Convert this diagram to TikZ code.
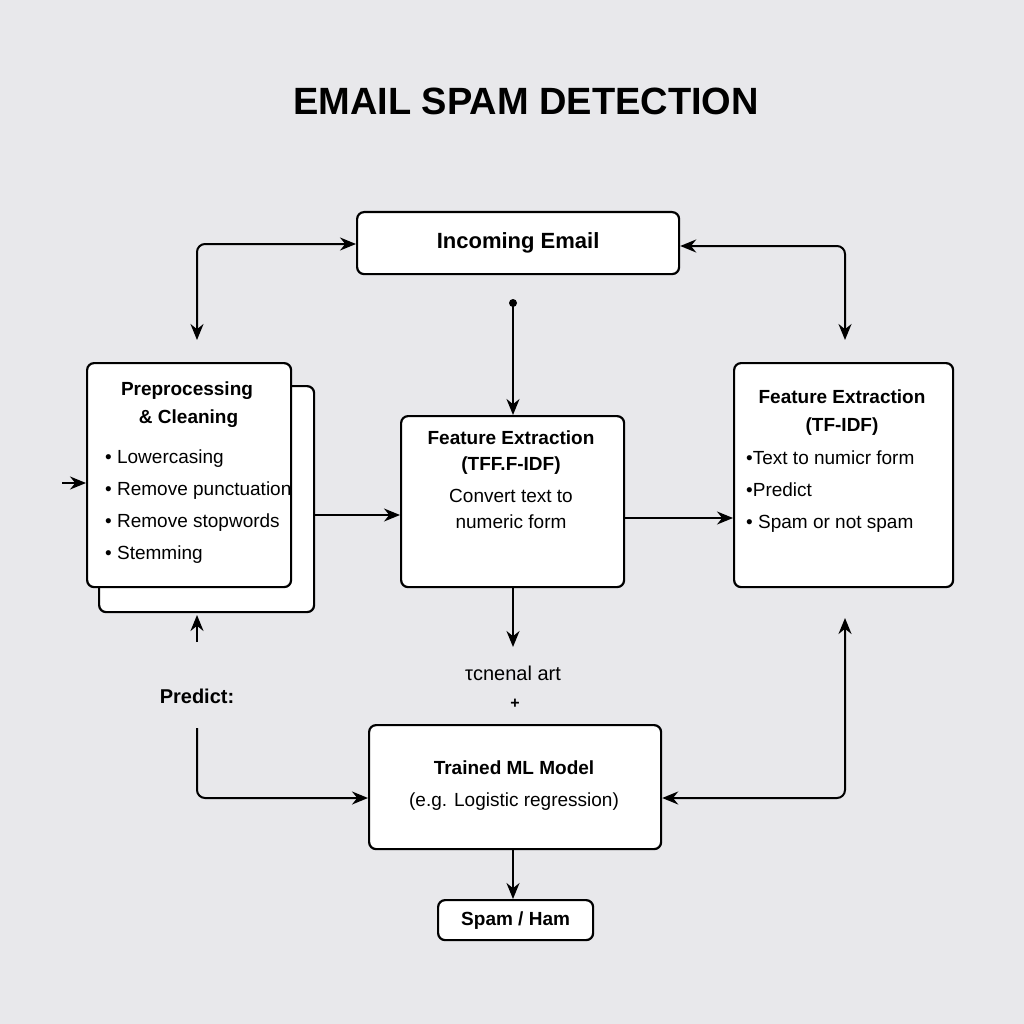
\documentclass[tikz,border=0pt]{standalone}
\usepackage{fontspec}
\setmainfont{Liberation Sans}
\usetikzlibrary{arrows.meta}
\definecolor{bg}{HTML}{E8E8EB}
\begin{document}
\begin{tikzpicture}[x=1pt,y=-1pt,
  box/.style={draw=black,line width=2.2pt,fill=white,rounded corners=7pt,anchor=north west},
  arr/.style={line width=2pt,-{Stealth[length=16pt,width=13pt]},rounded corners=8pt},
  darr/.style={line width=2pt,{Stealth[length=16pt,width=13pt]}-{Stealth[length=16pt,width=13pt]},rounded corners=8pt},
  t/.style={font=\fontsize{19}{26}\selectfont,align=left,anchor=north west,inner sep=0pt}]
\fill[bg] (0,0) rectangle (1024,1024);
\useasboundingbox (0,0) rectangle (1024,1024);
\node[font=\fontsize{38}{44}\selectfont\bfseries] (title) at (526,101) {EMAIL SPAM DETECTION};
% boxes
\node[box,minimum width=322pt,minimum height=62pt] (inc) at (356,211) {};
\node[font=\fontsize{22}{26}\selectfont\bfseries] at (inc.center) {Incoming Email};
\node[box,minimum width=215pt,minimum height=226pt] (pre2) at (98,385) {};
\node[box,minimum width=204pt,minimum height=224pt] (pre) at (86,362) {};
\node[t,font=\fontsize{19}{28}\selectfont\bfseries,align=center,anchor=north] (pret) at (187,382) {Preprocessing\\\,\& Cleaning};
\node[t] (prel) at (105,450) {• Lowercasing\\[6pt]• Remove punctuation\\[6pt]• Remove stopwords\\[6pt]• Stemming};
\node[box,minimum width=223pt,minimum height=171pt] (mid) at (400,415) {};
\node[t,anchor=north,align=center] (midt) at (511,431) {\textbf{Feature Extraction}\\\textbf{(TFF.F-IDF)}\\[6pt] Convert text to\\numeric form};
\node[box,minimum width=219pt,minimum height=224pt] (rgt) at (733,362) {};
\node[t,anchor=north,align=center,font=\fontsize{19}{28}\selectfont\bfseries] (rt) at (842,390) {Feature Extraction\\(TF-IDF)};
\node[t] (rl) at (746,451) {•Text to numicr form\\[6pt]•Predict\\[6pt]• Spam or not spam};
\node[box,minimum width=292pt,minimum height=124pt] (ml) at (368,724) {};
\node[t,anchor=center,align=center] (mlt) at (514,786) {\textbf{Trained ML Model}\\[6pt](e.g. Logistic regression)};
\node[box,minimum width=155pt,minimum height=40pt] (sh) at (437,899) {};
\node[font=\fontsize{19}{24}\selectfont\bfseries] at (sh.center) {Spam / Ham};
\node[font=\fontsize{20}{24}\selectfont] (tc) at (513,673) {τcnenal art};
\node[font=\fontsize{16}{20}\selectfont\bfseries] (plus) at (515,704) {+};
\node[font=\fontsize{20}{24}\selectfont\bfseries] (pred) at (197,696) {Predict:};
% coordinates
\coordinate (la) at (197,340); \coordinate (ra) at (845,340);
\coordinate (dot) at (513,303); \coordinate (lin) at (62,483);
\coordinate (mb) at (513,647); \coordinate (pu) at (197,615); \coordinate (pd) at (197,642);
\coordinate (ru) at (845,618);
\fill (dot) circle (4pt);
% connectors
\draw[darr] (la) -- (197,244) -- (inc.west |- 0,244);
\draw[darr] (inc.east |- 0,246) -- (845,246) -- (ra);
\draw[arr] (dot) -- (mid.north -| dot);
\draw[arr] (lin) -- (86,483);
\draw[arr] (pre2.east |- 0,515) -- (mid.west |- 0,515);
\draw[arr] (mid.east |- 0,518) -- (rgt.west |- 0,518);
\draw[arr] (mid.south -| mb) -- (mb);
\draw[arr] (pd) -- (pu);
\draw[arr] (197,728) -- (197,798) -- (ml.west |- 0,798);
\draw[darr] (ml.east |- 0,798) -- (845,798) -- (ru);
\draw[arr] (ml.south -| 513,0) -- (sh.north -| 513,0);
\end{tikzpicture}
\end{document}
